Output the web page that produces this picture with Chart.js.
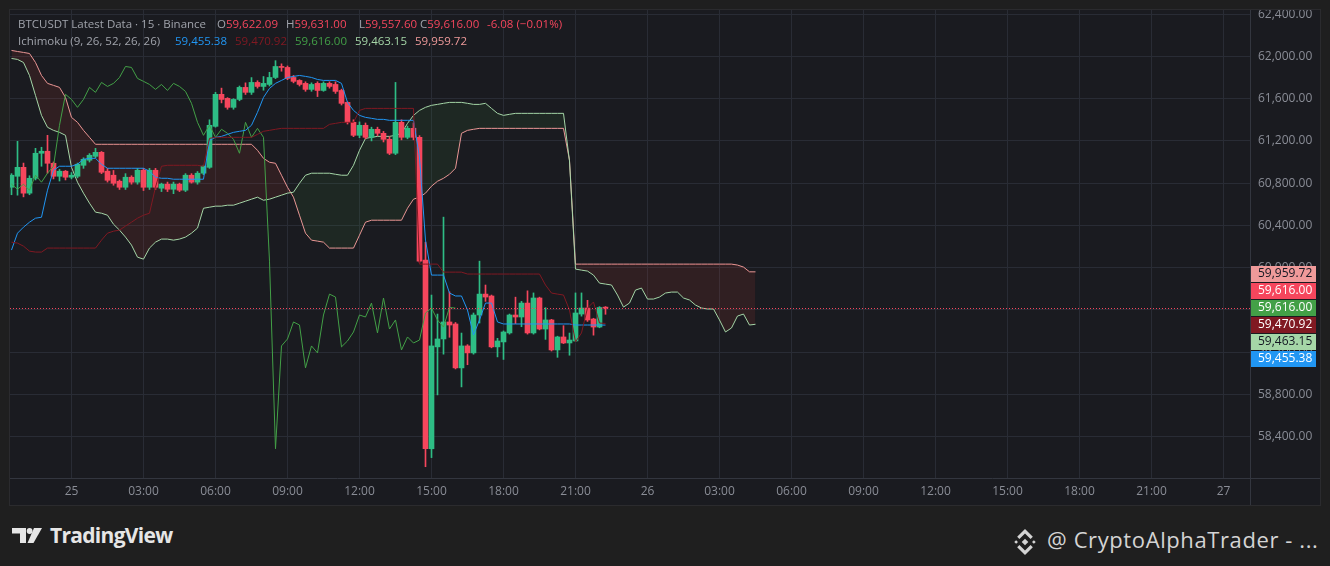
<!DOCTYPE html>
<html>
<head>
<meta charset="utf-8">
<title>BTCUSDT 15m Ichimoku</title>
<script src="https://cdn.jsdelivr.net/npm/chart.js@4.4.1/dist/chart.umd.min.js"></script>
<style>
  html, body { margin: 0; padding: 0; }
  body { width: 1330px; height: 566px; background: #1f1f1f; position: relative; overflow: hidden;
         font-family: "Open Sans", sans-serif; }
  #panel { position: absolute; left: 9px; top: 9px; width: 1310px; height: 495px;
           border: 1px solid #2b2b2e; background: #1a1b20; }
  #wrap { position: absolute; left: 0; top: 0; width: 1310px; height: 495px; }
  .lg { position: absolute; font-size: 11.5px; line-height: 16px; white-space: nowrap; color: #a0a3ab; }
  .red { color: #f6465d; }
  #brand { position: absolute; left: 50px; top: 525px; font-size: 21px; line-height: 21px; font-weight: 700;
           letter-spacing: -0.7px; color: #e6e6e6; }
  #author { position: absolute; left: 1047px; top: 528px; font-size: 22px; line-height: 22px;
            letter-spacing: 0.6px; color: #d4d4d4; }
</style>
</head>
<body>
<div id="panel"><div id="wrap"><canvas id="chart"></canvas></div></div>

<div class="lg" style="left:18px;top:16px">BTCUSDT Latest Data · 15 · Binance</div>
<div class="lg" style="left:217px;top:16px">O<span class="red" id="vO"></span></div>
<div class="lg" style="left:286px;top:16px">H<span class="red" id="vH"></span></div>
<div class="lg" style="left:359px;top:16px">L<span class="red" id="vL"></span></div>
<div class="lg" style="left:420px;top:16px">C<span class="red" id="vC"></span></div>
<div class="lg red" style="left:487px;top:16px" id="vChg"></div>

<div class="lg" style="left:18px;top:33px" id="ichiName"></div>
<div class="lg" style="left:175px;top:33px;color:#2196f3" id="vTenkan"></div>
<div class="lg" style="left:235px;top:33px;color:#801922" id="vKijun"></div>
<div class="lg" style="left:295px;top:33px;color:#43a047" id="vChikou"></div>
<div class="lg" style="left:355px;top:33px;color:#a5d6a7" id="vSpanA"></div>
<div class="lg" style="left:415px;top:33px;color:#ef9a9a" id="vSpanB"></div>

<svg style="position:absolute;left:12px;top:528px" width="32" height="16" viewBox="0 0 32 16">
  <path fill="#e6e6e6" d="M0 0H14V15H8V5.5H0Z"/>
  <circle fill="#e6e6e6" cx="17.6" cy="3" r="2.9"/>
  <path fill="#e6e6e6" d="M22 0H30L21.5 15H15.5Z"/>
</svg>
<div id="brand">TradingView</div>

<svg style="position:absolute;left:1012px;top:529px" width="26" height="26" viewBox="0 0 126 126">
  <g fill="#d4d4d4">
    <path d="M63 0L101 38L90 49L63 22L36 49L25 38Z"/>
    <path d="M63 126L101 88L90 77L63 104L36 77L25 88Z"/>
    <path d="M11 63L20 54L29 63L20 72Z"/>
    <path d="M97 63L106 54L115 63L106 72Z"/>
    <path d="M63 47L79 63L63 79L47 63Z"/>
  </g>
</svg>
<div id="author">@ CryptoAlphaTrader - ...</div>

<script>
// 15 minute bars, index 0 = 24th 21:30
const opens = [60761,60865,60950,60705,60846,61083,61102,60988,60865,60913,
  60856,60865,60969,61017,61054,61092,60913,60875,60818,60761,
  60856,60809,60922,60761,60922,60752,60790,60742,60790,60733,
  60875,60809,60894,60950,61338,61641,61603,61518,61593,61707,
  61660,61754,61716,61735,61801,61905,61896,61801,61773,61745,
  61688,61745,61678,61745,61735,61678,61565,61376,61253,61348,
  61234,61310,61272,61215,61083,61376,61234,61319,61234,60071,
  58284,59249,59324,59485,59466,59050,59258,59192,59551,59749,
  59731,59249,59296,59381,59551,59532,59664,59381,59712,59418,
  59504,59220,59343,59286,59305,59560,59617,59513,59437,59622.09];
const highs = [60890,61196,60990,60870,61130,61140,61253,61000,60930,60920,
  60900,60990,61040,61080,61130,61100,60940,60920,60830,60890,
  60870,60940,60940,60940,60940,60800,60810,60810,60800,60890,
  60890,60910,60970,61400,61660,61700,61610,61600,61720,61750,
  61800,61770,61810,61850,61960,61930,61910,61820,61780,61760,
  61750,61760,61760,61760,61760,61690,61570,61400,61380,61370,
  61330,61330,61290,61240,61754,61400,61340,61370,61250,60240,
  59740,59560,60478,59770,59480,59380,59270,59570,60061,59835,
  59740,59330,59400,59560,59720,59680,59780,59760,59720,59620,
  59510,59350,59450,59380,59760,59760,59690,59520,59630,59631];
const lows = [60690,60686,60670,60690,60830,60960,60894,60840,60820,60830,
  60840,60850,60940,61000,61040,60890,60810,60780,60740,60740,
  60790,60790,60730,60740,60740,60720,60720,60700,60720,60720,
  60800,60790,60880,60940,61330,61560,61500,61500,61580,61640,
  61640,61700,61680,61720,61790,61860,61780,61750,61720,61670,
  61670,61620,61670,61700,61650,61540,61360,61240,61230,61220,
  61200,61250,61190,61070,61070,61210,61220,61210,60050,58114,
  58200,58794,59180,59340,59040,58870,59080,59180,59475,59680,
  59240,59154,59130,59370,59470,59440,59370,59370,59410,59320,
  59210,59150,59280,59170,59300,59540,59490,59360,59430,59557.6];
const closes = [60875,60950,60705,60846,61083,61102,60988,60865,60913,60856,
  60875,60979,61026,61064,61092,60903,60827,60799,60761,60856,
  60809,60922,60761,60922,60761,60790,60742,60790,60733,60875,
  60809,60894,60960,61348,61641,61593,61518,61593,61707,61660,
  61754,61716,61745,61801,61905,61896,61792,61764,61735,61688,
  61735,61678,61745,61716,61669,61556,61376,61253,61348,61234,
  61310,61272,61215,61083,61376,61234,61319,61234,60061,58284,
  59258,59324,59485,59456,59050,59258,59192,59551,59749,59721,
  59249,59305,59390,59551,59532,59664,59381,59712,59418,59504,
  59220,59343,59286,59314,59570,59617,59504,59437,59622.08,59616];

// Ichimoku (9, 26, 52, 26, 26)
const ichimokuParams = [9, 26, 52, 26, 26];
const tenkan = [60166,60326,60383,60430,60468,60477,60733,60922,60960,60960,
  60960,60979,61026,61035,61035,60979,60941,60941,60941,60941,
  60941,60941,60941,60913,60856,60846,60846,60837,60837,60837,
  60837,60837,60837,61205,61234,61243,61262,61281,61291,61300,
  61348,61471,61612,61697,61745,61773,61801,61811,61820,61811,
  61801,61782,61773,61773,61773,61745,61565,61489,61442,61423,
  61414,61404,61404,61395,61395,61395,61395,61395,61045,60260,
  59929,59929,59929,59759,59731,59731,59598,59362,59504,59664,
  59664,59485,59466,59466,59466,59466,59466,59466,59466,59466,
  59466,59466,59466,59466,59456,59456,59456,59456,59456,59455.38];
const kijun = [60241,60232,60203,60156,60147,60147,60185,60185,60185,60185,
  60185,60185,60185,60185,60185,60260,60326,60345,60355,60393,
  60430,60468,60496,60515,60761,60960,60969,60969,60969,60969,
  60969,60969,60960,61224,61234,61234,61234,61234,61234,61234,
  61234,61262,61291,61300,61310,61319,61319,61319,61319,61319,
  61319,61319,61319,61357,61366,61376,61376,61376,61489,61508,
  61508,61508,61508,61508,61508,61508,61508,61508,60033,60033,
  60033,60033,59957,59957,59957,59957,59939,59939,59939,59939,
  59939,59939,59939,59939,59939,59939,59939,59939,59939,59835,
  59759,59749,59740,59598,59296,59381,59617,59674,59475,59470.92];
// leading spans run 25 bars past the last candle
const spanA = [61981,61972,61943,61820,61631,61442,61329,61300,61281,61253,
  60950,60809,60705,60610,60525,60515,60496,60411,60355,60289,
  60213,60099,60080,60185,60241,60270,60270,60260,60270,60289,
  60326,60374,60562,60572,60582,60582,60591,60591,60610,60629,
  60648,60667,60638,60648,60667,60686,60705,60714,60799,60875,
  60894,60894,60894,60894,60884,60875,60875,60969,61111,61224,
  61234,61243,61243,61243,61253,61272,61366,61442,61489,61518,
  61537,61546,61556,61565,61565,61565,61556,61546,61546,61556,
  61508,61461,61442,61452,61461,61461,61461,61461,61461,61461,
  61461,61461,61461,61010,59986,59976,59967,59929,59853,59844,
  59835,59740,59626,59664,59787,59806,59702,59702,59721,59759,
  59768,59768,59712,59693,59645,59617,59608,59608,59504,59390,
  59428,59541,59560,59456,59463.15];
const spanB = [62057,62047,62038,62028,61943,61820,61745,61726,61707,61612,
  61423,61376,61300,61234,61168,61168,61168,61168,61168,61168,
  61168,61168,61168,61168,61168,61168,61168,61168,61168,61168,
  61168,61168,61168,61168,61168,61168,61168,61168,61168,61168,
  61168,61111,61035,60998,60988,60875,60761,60667,60496,60326,
  60260,60251,60241,60185,60185,60185,60185,60185,60307,60430,
  60449,60449,60449,60449,60449,60449,60562,60648,60667,60705,
  60771,60818,60846,60884,60941,61272,61300,61310,61319,61319,
  61319,61319,61319,61319,61319,61319,61319,61319,61319,61319,
  61319,61319,61319,61017,60033,60033,60033,60033,60033,60033,
  60033,60033,60033,60033,60033,60033,60033,60033,60033,60033,
  60033,60033,60033,60033,60033,60033,60033,60033,60033,60033,
  60033,60024,60005,59960,59959.72];
const laggingShift = 25;

// time axis: one label every 12 bars (3h)
const xTickBars = [10,22,34,46,58,70,82,94,106,118,130,142,154,166,178,190,202];
const xTickLabels = ['25','03:00','06:00','09:00','12:00','15:00','18:00','21:00',
  '26','03:00','06:00','09:00','12:00','15:00','18:00','21:00','27'];
const yTickValues = [58400,58800,59200,59600,60000,60400,60800,61200,61600,62000,62400];
const viewFirstBar = -0.25, viewLastBar = 206.417;
const priceMin = 58007, priceMax = 62440;

const UP = '#2ebd85', DOWN = '#f6465d';
const TENKAN = '#2196f3', KIJUN = '#801922', CHIKOU = '#43a047', SPAN_A = '#a5d6a7', SPAN_B = '#ef9a9a';
const GRID = '#292c35', TICK = '#8a8d96', SEP = '#33363f';
const FONT = {family: '"Open Sans", sans-serif', size: 12};

const fmt = v => v.toLocaleString('en-US', {minimumFractionDigits: 2, maximumFractionDigits: 2});
const last = closes.length - 1;

const candleColors = opens.map((o, i) => closes[i] >= o ? UP : DOWN);
const wickData = highs.map((h, i) => ({x: i, y: [lows[i], h]}));
const bodyData = opens.map((o, i) => ({x: i, y: [o, closes[i]]}));
const toPts = arr => arr.map((v, i) => ({x: i, y: v}));
const chikouData = closes.slice(laggingShift).map((c, i) => ({x: i, y: c}));

// legend text
const chg = closes[last] - closes[last - 1];
document.getElementById('vO').textContent = fmt(opens[last]);
document.getElementById('vH').textContent = fmt(highs[last]);
document.getElementById('vL').textContent = fmt(lows[last]);
document.getElementById('vC').textContent = fmt(closes[last]);
document.getElementById('vChg').textContent =
  (chg < 0 ? '-' : '+') + fmt(Math.abs(chg)) + ' (' + (chg < 0 ? '\u2212' : '+') +
  fmt(Math.abs(chg / closes[last - 1] * 100)) + '%)';
document.getElementById('ichiName').textContent = 'Ichimoku (' + ichimokuParams.join(', ') + ')';
document.getElementById('vTenkan').textContent = fmt(tenkan[tenkan.length - 1]);
document.getElementById('vKijun').textContent = fmt(kijun[kijun.length - 1]);
document.getElementById('vChikou').textContent = fmt(closes[last]);
document.getElementById('vSpanA').textContent = fmt(spanA[spanA.length - 1]);
document.getElementById('vSpanB').textContent = fmt(spanB[spanB.length - 1]);

const overlay = {
  id: 'overlay',
  afterDatasetsDraw(chart) {
    const {ctx, chartArea: a, scales: {y}} = chart;
    const py = Math.round(y.getPixelForValue(closes[last])) + 0.5;
    ctx.save();
    ctx.strokeStyle = candleColors[last];
    ctx.lineWidth = 1;
    ctx.setLineDash([1, 2]);
    ctx.beginPath();
    ctx.moveTo(a.left, py);
    ctx.lineTo(a.right, py);
    ctx.stroke();
    ctx.restore();
  },
  afterDraw(chart) {
    const {ctx, chartArea: a, scales: {y}, width, height} = chart;
    ctx.save();
    ctx.strokeStyle = SEP;
    ctx.lineWidth = 1;
    ctx.beginPath();
    ctx.moveTo(a.right + 0.5, 0); ctx.lineTo(a.right + 0.5, height);
    ctx.moveTo(0, a.bottom + 0.5); ctx.lineTo(width, a.bottom + 0.5);
    ctx.stroke();

    // last value tags on the price axis, stacked so they don't overlap
    const h = 17;
    const tags = [
      {v: closes[last], bg: candleColors[last], fg: '#ffffff'},
      {v: closes[last], bg: CHIKOU, fg: '#ffffff'},
      {v: kijun[kijun.length - 1], bg: KIJUN, fg: '#ffffff'},
      {v: spanA[spanA.length - 1], bg: SPAN_A, fg: '#131722'},
      {v: tenkan[tenkan.length - 1], bg: TENKAN, fg: '#ffffff'},
      {v: spanB[spanB.length - 1], bg: SPAN_B, fg: '#131722'}
    ].map(t => ({...t, y: y.getPixelForValue(t.v)}));
    tags.sort((p, q) => p.y - q.y);
    let groups = tags.map(t => ({m: [t], c: t.y}));
    let merged = true;
    while (merged) {
      merged = false;
      for (let i = 0; i < groups.length - 1; i++) {
        const g1 = groups[i], g2 = groups[i + 1];
        if (g1.c + g1.m.length * h / 2 > g2.c - g2.m.length * h / 2) {
          const m = g1.m.concat(g2.m);
          const ys = m.map(t => t.y).sort((p, q) => p - q);
          groups.splice(i, 2, {m, c: ys[Math.floor(ys.length / 2)]});
          merged = true;
          break;
        }
      }
    }
    ctx.font = '12px "Open Sans", sans-serif';
    ctx.textBaseline = 'middle';
    ctx.textAlign = 'left';
    groups.forEach(g => {
      g.m.forEach((t, i) => {
        const cy = Math.round(g.c + (i - (g.m.length - 1) / 2) * h) + 2;
        ctx.fillStyle = t.bg;
        ctx.fillRect(a.right + 1, cy - 8, 65, 16);
        ctx.fillStyle = t.fg;
        ctx.fillText(fmt(t.v), a.right + 8, cy);
      });
    });
    ctx.restore();
  }
};

const lineDs = (data, color, order) => ({
  type: 'line', data, borderColor: color, borderWidth: 1, pointRadius: 0,
  tension: 0, fill: false, order
});

new Chart(document.getElementById('chart'), {
  type: 'bar',
  data: {
    datasets: [
      Object.assign(lineDs(toPts(spanA), SPAN_A, 2), {
        fill: {target: '+1', above: 'rgba(67,160,71,0.1)', below: 'rgba(244,67,54,0.1)'}
      }),
      lineDs(toPts(spanB), SPAN_B, 2),
      lineDs(toPts(kijun), KIJUN, 0),
      lineDs(toPts(tenkan), TENKAN, 0),
      lineDs(chikouData, CHIKOU, 0),
      {type: 'bar', data: wickData, backgroundColor: candleColors, barThickness: 1,
       grouped: false, borderWidth: 0, order: 1},
      {type: 'bar', data: bodyData, backgroundColor: candleColors, barThickness: 5,
       minBarLength: 1, grouped: false, borderWidth: 0, order: 1}
    ]
  },
  options: {
    responsive: true,
    maintainAspectRatio: false,
    animation: false,
    layout: {padding: 0},
    plugins: {legend: {display: false}, tooltip: {enabled: false}},
    scales: {
      x: {
        type: 'linear', min: viewFirstBar, max: viewLastBar, bounds: 'data',
        offset: false,
        grid: {color: GRID, drawTicks: false, offset: false},
        border: {display: false},
        afterBuildTicks: ax => { ax.ticks = xTickBars.map(v => ({value: v})); },
        afterFit: ax => { ax.height = 27; ax.paddingLeft = 0; ax.paddingRight = 0; },
        ticks: {autoSkip: false, maxRotation: 0, padding: 6, color: TICK, font: FONT,
                callback: (v, i) => xTickLabels[i]}
      },
      y: {
        type: 'linear', position: 'right', min: priceMin, max: priceMax, bounds: 'data',
        grid: {color: GRID, drawTicks: false},
        border: {display: false},
        afterBuildTicks: ax => { ax.ticks = yTickValues.map(v => ({value: v})); },
        afterFit: ax => { ax.width = 70; ax.paddingTop = 0; ax.paddingBottom = 0; },
        ticks: {autoSkip: false, padding: 8, color: TICK, font: FONT, callback: v => fmt(v)}
      }
    }
  },
  plugins: [overlay]
});
</script>
</body>
</html>
